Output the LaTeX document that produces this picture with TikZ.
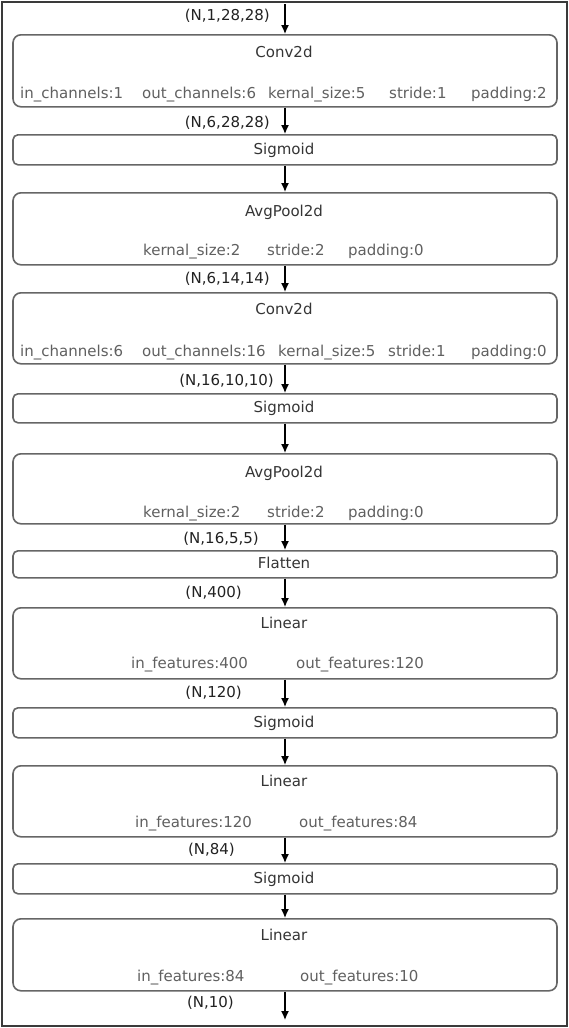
\documentclass[tikz,border=0pt]{standalone}
\usepackage{fontspec}
\setmainfont{DejaVu Sans}
\usetikzlibrary{arrows.meta}
\definecolor{boxgray}{HTML}{666666}
\definecolor{titlegray}{HTML}{353535}
\definecolor{paramgray}{HTML}{606060}
\definecolor{labelgray}{HTML}{222222}
\definecolor{framegray}{HTML}{3A3A3A}
\begin{document}
\begin{tikzpicture}[x=1pt,y=-1pt,
  bigbox/.style={draw=boxgray, line width=1.6pt, rounded corners=8pt, minimum width=544pt, inner sep=0pt, anchor=north},
  smallbox/.style={draw=boxgray, line width=1.6pt, rounded corners=5pt, minimum width=544pt, inner sep=0pt, anchor=north},
  ttl/.style={text=titlegray, font=\fontsize{15}{18}\selectfont, inner sep=0pt, anchor=base},
  prm/.style={text=paramgray, font=\fontsize{15}{18}\selectfont, inner sep=0pt, anchor=base west},
  shp/.style={text=labelgray, font=\fontsize{15}{18}\selectfont, inner sep=0pt, anchor=base east},
  flow/.style={draw=black, line width=1.3pt, -{Latex[length=9pt,width=8pt]}}
]
\useasboundingbox (0,0) rectangle (569,1028);
\fill[white] (0,0) rectangle (569,1028);
\draw[framegray, line width=2pt] (2,2) rectangle (567,1026);

% boxes
\node[bigbox, minimum height=72pt] (c1) at (285,34) {};
\node[smallbox, minimum height=30pt] (s1) at (285,134) {};
\node[bigbox, minimum height=72pt] (p1) at (285,192) {};
\node[bigbox, minimum height=71pt] (c2) at (285,292) {};
\node[smallbox, minimum height=29pt] (s2) at (285,393) {};
\node[bigbox, minimum height=70pt] (p2) at (285,453) {};
\node[smallbox, minimum height=27pt] (fl) at (285,550) {};
\node[bigbox, minimum height=71pt] (l1) at (285,607) {};
\node[smallbox, minimum height=30pt] (s3) at (285,707) {};
\node[bigbox, minimum height=71pt] (l2) at (285,765) {};
\node[smallbox, minimum height=30pt] (s4) at (285,863) {};
\node[bigbox, minimum height=72pt] (l3) at (285,918) {};

% titles (baselines)
\node[ttl] (c1t) at (284,57) {Conv2d};
\node[ttl] (s1t) at (284,154) {Sigmoid};
\node[ttl] (p1t) at (284,216) {AvgPool2d};
\node[ttl] (c2t) at (284,314) {Conv2d};
\node[ttl] (s2t) at (284,412) {Sigmoid};
\node[ttl] (p2t) at (284,477) {AvgPool2d};
\node[ttl] (flt) at (284,568) {Flatten};
\node[ttl] (l1t) at (284,628) {Linear};
\node[ttl] (s3t) at (284,727) {Sigmoid};
\node[ttl] (l2t) at (284,786) {Linear};
\node[ttl] (s4t) at (284,883) {Sigmoid};
\node[ttl] (l3t) at (284,940) {Linear};

% parameters (baselines)
\node[prm] (c1a) at (20,98) {in\_channels:1};
\node[prm] (c1b) at (142,98) {out\_channels:6};
\node[prm] (c1c) at (268,98) {kernal\_size:5};
\node[prm] (c1d) at (389,98) {stride:1};
\node[prm] (c1e) at (471,98) {padding:2};

\node[prm] (p1a) at (143,255) {kernal\_size:2};
\node[prm] (p1b) at (267,255) {stride:2};
\node[prm] (p1c) at (348,255) {padding:0};

\node[prm] (c2a) at (20,356) {in\_channels:6};
\node[prm] (c2b) at (142,356) {out\_channels:16};
\node[prm] (c2c) at (278,356) {kernal\_size:5};
\node[prm] (c2d) at (388,356) {stride:1};
\node[prm] (c2e) at (471,356) {padding:0};

\node[prm] (p2a) at (143,517) {kernal\_size:2};
\node[prm] (p2b) at (267,517) {stride:2};
\node[prm] (p2c) at (348,517) {padding:0};

\node[prm] (l1a) at (131,668) {in\_features:400};
\node[prm] (l1b) at (296,668) {out\_features:120};

\node[prm] (l2a) at (135,827) {in\_features:120};
\node[prm] (l2b) at (299,827) {out\_features:84};

\node[prm] (l3a) at (137,981) {in\_features:84};
\node[prm] (l3b) at (300,981) {out\_features:10};

% connectors
\coordinate (in) at (285,4);
\coordinate (out) at (285,1020);
\draw[flow] (in) -- (c1.north);
\draw[flow] (c1.south) -- (s1.north);
\draw[flow] (s1.south) -- (p1.north);
\draw[flow] (p1.south) -- (c2.north);
\draw[flow] (c2.south) -- (s2.north);
\draw[flow] (s2.south) -- (p2.north);
\draw[flow] (p2.south) -- (fl.north);
\draw[flow] (fl.south) -- (l1.north);
\draw[flow] (l1.south) -- (s3.north);
\draw[flow] (s3.south) -- (l2.north);
\draw[flow] (l2.south) -- (s4.north);
\draw[flow] (s4.south) -- (l3.north);
\draw[flow] (l3.south) -- (out);

% shape labels (baselines)
\node[shp] (sh0) at (270,20) {(N,1,28,28)};
\node[shp] (sh1) at (270,127) {(N,6,28,28)};
\node[shp] (sh2) at (270,283) {(N,6,14,14)};
\node[shp] (sh3) at (274,385) {(N,16,10,10)};
\node[shp] (sh4) at (259,543) {(N,16,5,5)};
\node[shp] (sh5) at (242,597) {(N,400)};
\node[shp] (sh6) at (242,697) {(N,120)};
\node[shp] (sh7) at (235,854) {(N,84)};
\node[shp] (sh8) at (234,1007) {(N,10)};
\end{tikzpicture}
\end{document}
